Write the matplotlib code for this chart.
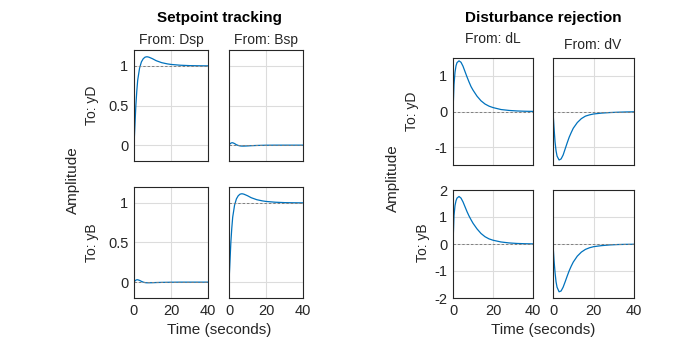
import numpy as np
import matplotlib.pyplot as plt
from matplotlib.ticker import FormatStrFormatter

plt.rcParams['font.family'] = ['Liberation Sans', 'DejaVu Sans']
plt.rcParams['axes.unicode_minus'] = False

# step responses
t_sp = [0, 0.5, 1, 1.5, 2, 3, 4, 5, 6, 7, 8, 10, 12, 15, 18, 20, 25, 30, 35, 40]
dsp_yd = [0, 0.25, 0.5, 0.68, 0.82, 0.97, 1.05, 1.09, 1.11, 1.115, 1.11, 1.09,
          1.065, 1.04, 1.025, 1.018, 1.008, 1.003, 1.001, 1.0]
bsp_yb = [0, 0.25, 0.5, 0.68, 0.82, 0.97, 1.05, 1.09, 1.11, 1.115, 1.11, 1.09,
          1.065, 1.04, 1.025, 1.018, 1.008, 1.003, 1.001, 1.0]
bsp_yd = [0, 0.015, 0.025, 0.03, 0.03, 0.02, 0.005, -0.004, -0.01, -0.012, -0.012,
          -0.01, -0.007, -0.004, -0.002, -0.001, 0, 0, 0, 0]
dsp_yb = [0, 0.015, 0.025, 0.03, 0.03, 0.022, 0.01, 0.0, -0.006, -0.008, -0.008,
          -0.007, -0.005, -0.003, -0.002, -0.001, 0, 0, 0, 0]

t_d = [0, 0.5, 1, 1.5, 2, 3, 4, 5, 6, 7, 8, 9, 10, 12, 14, 16, 18, 20, 24, 28,
       32, 36, 40]
dl_yd = [0, 0.75, 1.1, 1.28, 1.37, 1.42, 1.38, 1.27, 1.12, 0.97, 0.83, 0.7, 0.6,
         0.43, 0.3, 0.21, 0.15, 0.11, 0.055, 0.03, 0.015, 0.007, 0.003]
dv_yd = [0, -0.45, -0.85, -1.1, -1.25, -1.36, -1.33, -1.22, -1.05, -0.88, -0.72,
         -0.59, -0.47, -0.31, -0.2, -0.13, -0.095, -0.07, -0.045, -0.03, -0.02,
         -0.013, -0.009]
dl_yb = [0, 1.05, 1.42, 1.6, 1.7, 1.76, 1.7, 1.56, 1.38, 1.2, 1.04, 0.9, 0.77,
         0.56, 0.39, 0.27, 0.19, 0.14, 0.075, 0.04, 0.02, 0.01, 0.005]
dv_yb = [0, -0.6, -1.05, -1.4, -1.6, -1.77, -1.74, -1.6, -1.4, -1.19, -0.99, -0.82,
         -0.67, -0.45, -0.3, -0.2, -0.14, -0.1, -0.06, -0.035, -0.02, -0.013, -0.009]

blue = '#0072BD'


def box(x0, y0, x1, y1):
    return [x0 / 700, 1 - y1 / 350, (x1 - x0) / 700, (y1 - y0) / 350]


def panel(rect, t, y, final, ylim, yticks, show_x, show_y):
    ax = fig.add_axes(rect)
    ax.plot(t, y, color=blue, lw=0.9)
    ax.axhline(final, color='#808080', lw=0.7, ls=(0, (2.5, 2)))
    ax.set_xlim(0, 40)
    ax.set_ylim(*ylim)
    ax.set_xticks([0, 20, 40])
    ax.set_yticks(yticks)
    ax.yaxis.set_major_formatter(FormatStrFormatter('%g'))
    ax.grid(True, color='#dcdcdc', lw=0.8)
    ax.set_axisbelow(True)
    ax.tick_params(length=0, labelsize=10.5, colors='#262626', pad=4)
    if not show_x:
        ax.set_xticklabels([])
    if not show_y:
        ax.set_yticklabels([])
    for s in ax.spines.values():
        s.set_color('#262626')
        s.set_linewidth(0.8)
    return ax


fig = plt.figure(figsize=(7, 3.5), dpi=100)

sp_lim = (-0.2, 1.2)
sp_ticks = [0, 0.5, 1]
panel(box(134, 50, 208, 161), t_sp, dsp_yd, 1, sp_lim, sp_ticks, False, True)
panel(box(229, 50, 303, 161), t_sp, bsp_yd, 0, sp_lim, sp_ticks, False, False)
panel(box(134, 187, 208, 298), t_sp, dsp_yb, 0, sp_lim, sp_ticks, True, True)
panel(box(229, 187, 303, 298), t_sp, bsp_yb, 1, sp_lim, sp_ticks, True, False)

panel(box(453, 58, 533, 165), t_d, dl_yd, 0, (-1.5, 1.5), [-1, 0, 1], False, True)
panel(box(553, 58, 634, 165), t_d, dv_yd, 0, (-1.5, 1.5), [-1, 0, 1], False, False)
panel(box(453, 190, 533, 298), t_d, dl_yb, 0, (-2, 2), [-2, -1, 0, 1, 2], True, True)
panel(box(553, 190, 634, 298), t_d, dv_yb, 0, (-2, 2), [-2, -1, 0, 1, 2], True, False)


def txt(x, y, s, color='#262626', **kw):
    fig.text(x / 700, 1 - y / 350, s, ha='center', va='center', color=color, **kw)


txt(219, 18, 'Setpoint tracking', fontsize=11, fontweight='bold', color='black')
txt(543, 18, 'Disturbance rejection', fontsize=11, fontweight='bold', color='black')
txt(171, 40, 'From: Dsp', fontsize=10)
txt(266, 40, 'From: Bsp', fontsize=10)
txt(493, 39, 'From: dL', fontsize=10)
txt(593, 45, 'From: dV', fontsize=10)
txt(92, 105, 'To: yD', fontsize=10, rotation=90)
txt(92, 243, 'To: yB', fontsize=10, rotation=90)
txt(412, 111, 'To: yD', fontsize=10, rotation=90)
txt(423, 243, 'To: yB', fontsize=10, rotation=90)
txt(73, 180, 'Amplitude', fontsize=11, rotation=90)
txt(393, 178, 'Amplitude', fontsize=11, rotation=90)
txt(219, 330, 'Time (seconds)', fontsize=11)
txt(543, 330, 'Time (seconds)', fontsize=11)

fig.savefig('out.png', dpi=100)
